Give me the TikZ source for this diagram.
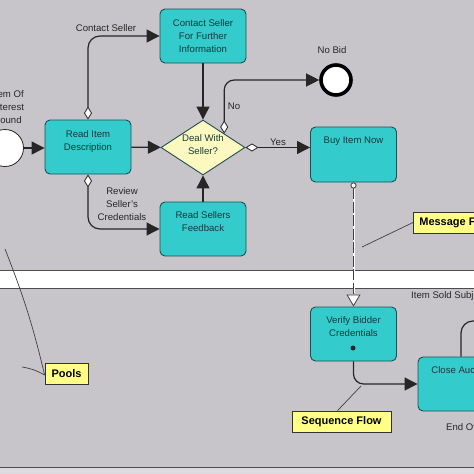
\documentclass[tikz,border=0pt]{standalone}
\usepackage{fontspec}
\setmainfont{Liberation Sans}
\usetikzlibrary{arrows.meta,shapes.geometric}
\definecolor{bg}{HTML}{C7C5C9}
\definecolor{bglow}{HTML}{DCDADE}
\definecolor{taskfill}{HTML}{33CBCB}
\definecolor{taskborder}{HTML}{1E4F50}
\definecolor{tasktxt}{HTML}{163A3D}
\definecolor{gwfill}{HTML}{FBF9C0}
\definecolor{noteyellow}{HTML}{FFFF88}
\definecolor{msgcol}{HTML}{404040}
\tikzset{
  task/.style={draw=taskborder, fill=taskfill, rounded corners=5pt, minimum width=86pt, minimum height=54pt, inner sep=0pt, line width=0.9pt},
  tasktext/.style={anchor=north, align=center, font=\fontsize{9.6}{13}\selectfont, text=tasktxt, inner sep=0pt},
  gateway/.style={draw=taskborder, fill=gwfill, diamond, minimum width=84pt, minimum height=55pt, inner sep=0pt, line width=0.9pt},
  seq/.style={draw=black!85, line width=1.2pt, -{Triangle[length=13pt,width=13pt]}},
  cond/.style={draw=black!85, line width=1.2pt, {Diamond[fill=white,length=13pt,width=8pt,line width=0.8pt]}-{Triangle[length=13pt,width=13pt]}},
  plainline/.style={draw=black!85, line width=1.2pt},
  lbl/.style={font=\fontsize{9.6}{13}\selectfont, inner sep=0pt, align=center, text=black!85},
  note/.style={draw=black!80, fill=noteyellow, font=\bfseries\fontsize{11}{13}\selectfont, inner xsep=6pt, inner ysep=0pt, minimum height=21pt, line width=0.7pt},
  noteline/.style={draw=black!75, line width=0.7pt},
  laneline/.style={draw=black!70, line width=1pt},
}
\begin{document}
\begin{tikzpicture}[x=1pt,y=-1pt]
\useasboundingbox (0,0) rectangle (474,474);
\clip (0,0) rectangle (474,474);
% pools background
\fill[bg] (0,0) rectangle (474,467);
\fill[bglow] (0,467) rectangle (474,474);
\fill[white] (0,270) rectangle (474,288);
\draw[laneline] (0,270) -- (474,270);
\draw[laneline] (0,288) -- (474,288);
\draw[laneline] (0,467) -- (474,467);

% events
\node[circle, draw=black!85, fill=white, minimum size=37pt, inner sep=0pt, line width=0.8pt] (start) at (5,148) {};
\node[circle, draw=black, fill=white, minimum size=30pt, inner sep=0pt, line width=3.6pt] (nobid) at (336,80) {};

% tasks
\node[task] (read) at (88,147) {};
\node[tasktext] (readT) at ([yshift=-11pt]read.north) {Read Item\\Description};
\node[task] (contact) at (203,36) {};
\node[tasktext] (contactT) at ([yshift=-11pt]contact.north) {Contact Seller\\For Further\\Information};
\node[task] (feedback) at (203,229) {};
\node[tasktext] (feedbackT) at ([yshift=-10pt]feedback.north) {Read Sellers\\Feedback};
\node[task, minimum height=55pt] (buy) at (353.5,154.5) {};
\node[tasktext] (buyT) at ([yshift=-10pt]buy.north) {Buy Item Now};
\node[task] (verify) at (353.5,334) {};
\node[tasktext] (verifyT) at ([yshift=-10pt]verify.north) {Verify Bidder\\Credentials};
\node[circle, fill=black!85, minimum size=5pt, inner sep=0pt] (vmark) at (353,348) {};
\node[task] (close) at (461,384) {};
\node[tasktext] (closeT) at ([yshift=-10pt]close.north) {Close Auction};

% gateway
\node[gateway] (deal) at (203,147.5) {};
\node[tasktext, anchor=center] (dealT) at (203,145) {Deal With\\Seller?};

% sequence flows
\draw[seq] (start.east |- 0,148) -- (read.west |- 0,148);
\draw[seq] (read) -- (deal);
\draw[seq] (contact) -- (deal);
\draw[seq] (feedback) -- (deal);
\draw[cond, rounded corners=12pt] (read.north) |- (contact.west);
\draw[cond, rounded corners=12pt] (read.south) |- (feedback.west);
\draw[cond, rounded corners=10pt] (deal.north east) |- (nobid.west);
\draw[cond] (deal.east) -- (deal.east -| buy.west);
\draw[seq, rounded corners=10pt] (verify.south) |- (close.west);
\coordinate (offR) at (495,321);
\draw[plainline, rounded corners=12pt] (close.north) |- (offR);

% message flow
\draw[white, line width=2pt] ([yshift=-7pt]buy.south) -- ([yshift=14pt]verify.north);
\draw[msgcol, line width=1.6pt, dash pattern=on 11pt off 2.5pt,
  {Circle[fill=white,length=6pt,width=6pt,line width=0.8pt]}-{Triangle[fill=white,length=12pt,width=14pt,line width=0.8pt]}]
  (buy.south) -- (verify.north);

% labels
\node[lbl] (lContact) at (106,28) {Contact Seller};
\node[lbl] (lReview) at (122,204) {Review\\Seller's\\Credentials};
\node[lbl] (lNo) at (234,106) {No};
\node[lbl] (lYes) at (278,142) {Yes};
\node[lbl] (lNoBid) at (332,50) {No Bid};
\node[lbl] (lStart) at (8,107) {Item Of\\Interest\\Found};
\node[lbl, anchor=west] (lSold) at (411,296) {Item Sold Subject};
\node[lbl, anchor=west] (lEnd) at (446,427) {End Of Auction};

% annotations
\node[note, anchor=west] (msgnote) at (413,222.5) {Message Flow};
\node[note, minimum width=43pt] (pools) at (66.5,374) {Pools};
\node[note, minimum width=99pt] (seqnote) at (341.5,421.5) {Sequence Flow};
\coordinate (msgpt) at (362,247);
\coordinate (poolsA) at (5,249);
\coordinate (poolsB) at (22,367);
\coordinate (seqpt) at (361,386);
\draw[noteline] (msgnote.west) -- (msgpt);
\draw[noteline] (poolsA) to[bend left=4] ([yshift=-1pt]pools.west);
\draw[noteline] (poolsB) to[bend left=10] ([yshift=-1pt]pools.west);
\draw[noteline] ([xshift=-4pt]seqnote.north) -- (seqpt);
\end{tikzpicture}
\end{document}
